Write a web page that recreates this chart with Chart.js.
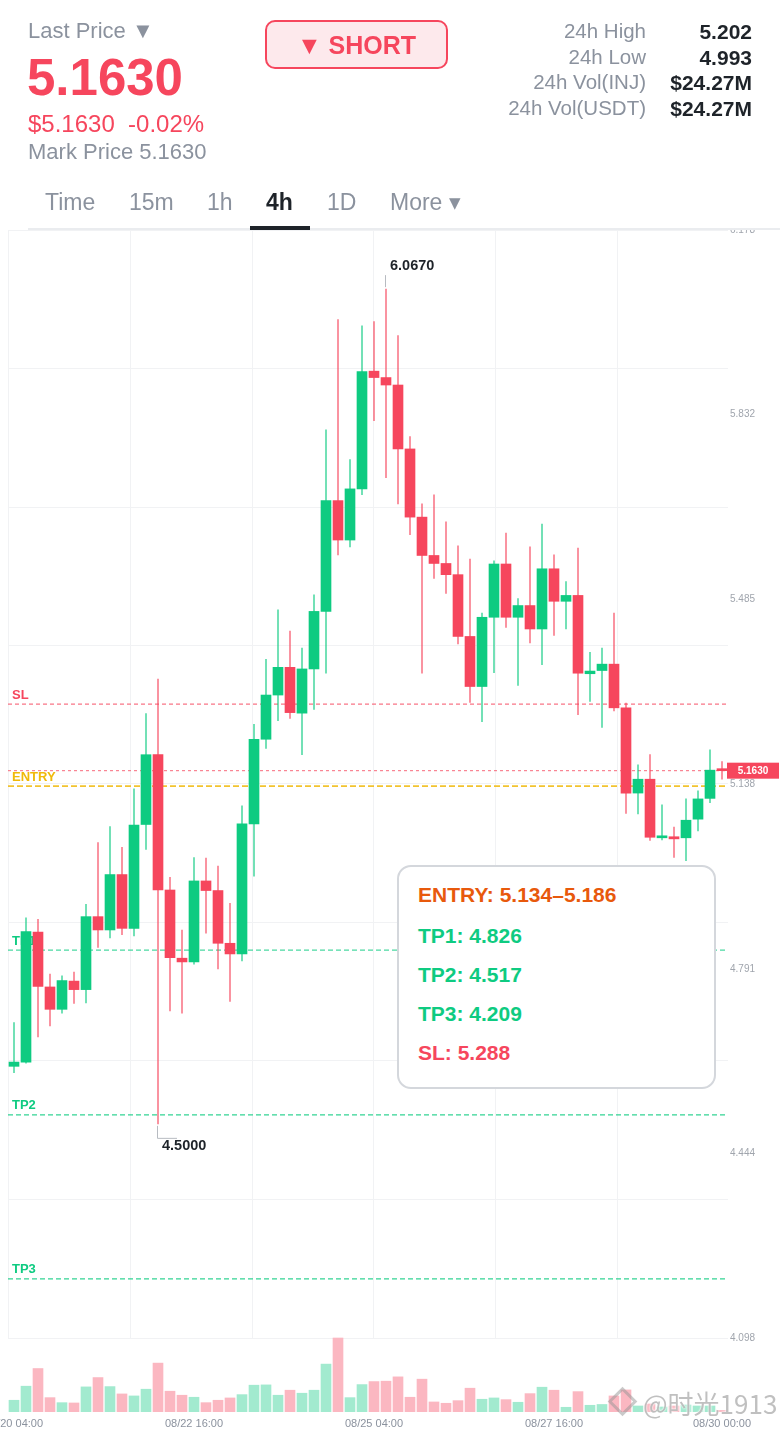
<!DOCTYPE html>
<html>
<head>
<meta charset="utf-8">
<script src="https://cdn.jsdelivr.net/npm/chart.js@4.4.1/dist/chart.umd.min.js"></script>
<style>
html, body { margin: 0; padding: 0; background: #fff; }
body { width: 780px; height: 1430px; position: relative; overflow: hidden; font-family: "Liberation Sans", Arial, sans-serif; }
.t { position: absolute; white-space: nowrap; line-height: 1; }
.gray { color: #8b929e; }
.dark { color: #1e2329; }
.red { color: #f6465d; }
#cover { position: absolute; left: 0; top: 0; width: 780px; height: 228px; background: #fff; z-index: 2; }
#head { position: absolute; left: 0; top: 0; width: 780px; height: 230px; z-index: 3; }
#c { position: absolute; left: -60px; top: 220px; z-index: 1; }
#box { position: absolute; left: 397px; top: 865px; width: 315px; height: 220px; border: 2px solid #d4d7dc; border-radius: 14px; background: #fff; z-index: 4; }
#wm { position: absolute; left: 608px; top: 1390px; z-index: 5; color: rgba(130,130,130,0.5); font-family: "Noto Sans CJK SC", sans-serif; font-size: 26px; line-height: 1; white-space: nowrap; text-shadow: 0 0 2px #fff, 0 0 2px #fff; }
</style>
</head>
<body>
<div id="cover"></div>
<div id="head">
  <div class="t gray" style="left:28px;top:20px;font-size:22px;">Last Price ▼</div>
  <div class="t red" style="left:27px;top:52px;font-size:51px;font-weight:bold;">5.1630</div>
  <div class="t red" style="left:28px;top:112px;font-size:24px;">$5.1630&nbsp;&nbsp;-0.02%</div>
  <div class="t gray" style="left:28px;top:141px;font-size:22px;">Mark Price 5.1630</div>

  <div style="position:absolute;left:265px;top:20px;width:179px;height:45px;border:2px solid #f6465d;border-radius:10px;background:#fde9ec;"></div>
  <div class="t red" style="left:265px;top:33px;width:183px;text-align:center;font-size:25px;font-weight:bold;">▼ SHORT</div>

  <div class="t gray" style="right:134px;top:21px;font-size:20.5px;">24h High</div>
  <div class="t gray" style="right:134px;top:47px;font-size:20.5px;">24h Low</div>
  <div class="t gray" style="right:134px;top:72px;font-size:20.5px;">24h Vol(INJ)</div>
  <div class="t gray" style="right:134px;top:98px;font-size:20.5px;">24h Vol(USDT)</div>
  <div class="t dark" style="right:28px;top:21px;font-size:21px;font-weight:bold;">5.202</div>
  <div class="t dark" style="right:28px;top:47px;font-size:21px;font-weight:bold;">4.993</div>
  <div class="t dark" style="right:28px;top:72px;font-size:21px;font-weight:bold;">$24.27M</div>
  <div class="t dark" style="right:28px;top:98px;font-size:21px;font-weight:bold;">$24.27M</div>

  <div class="t gray" style="left:45px;top:191px;font-size:23px;">Time</div>
  <div class="t gray" style="left:129px;top:191px;font-size:23px;">15m</div>
  <div class="t gray" style="left:207px;top:191px;font-size:23px;">1h</div>
  <div class="t dark" style="left:266px;top:191px;font-size:23px;font-weight:bold;">4h</div>
  <div class="t gray" style="left:327px;top:191px;font-size:23px;">1D</div>
  <div class="t gray" style="left:390px;top:191px;font-size:23px;">More ▾</div>
  <div style="position:absolute;left:28px;top:228px;width:752px;height:2px;background:#eaecef;"></div>
  <div style="position:absolute;left:250px;top:226px;width:60px;height:4px;background:#1e2329;"></div>
</div>

<canvas id="c" width="840" height="1210"></canvas>

<div id="box">
  <div class="t" style="left:19px;top:17px;font-size:21px;font-weight:bold;color:#e8590c;">ENTRY: 5.134–5.186</div>
  <div class="t" style="left:19px;top:58px;font-size:21px;font-weight:bold;color:#0ecb81;">TP1: 4.826</div>
  <div class="t" style="left:19px;top:97px;font-size:21px;font-weight:bold;color:#0ecb81;">TP2: 4.517</div>
  <div class="t" style="left:19px;top:136px;font-size:21px;font-weight:bold;color:#0ecb81;">TP3: 4.209</div>
  <div class="t" style="left:19px;top:175px;font-size:21px;font-weight:bold;color:#f6465d;">SL: 5.288</div>
</div>

<div id="wm"><span style="display:inline-block;width:15px;height:15px;border:3px solid rgba(150,150,150,0.5);transform:rotate(45deg);margin:0 10px 0 4px;vertical-align:2px;"></span>@时光1913</div>

<script>
// 4h candles, 08/20 04:00 -> 08/30 00:00
const opens  = [4.608, 4.616, 4.860, 4.757, 4.715, 4.768, 4.752, 4.889, 4.864, 4.968,
                4.867, 5.062, 5.193, 4.939, 4.811, 4.804, 4.956, 4.938, 4.839, 4.819,
                5.063, 5.222, 5.305, 5.357, 5.271, 5.354, 5.462, 5.670, 5.596, 5.692,
                5.913, 5.901, 5.887, 5.767, 5.639, 5.567, 5.552, 5.531, 5.415, 5.321,
                5.451, 5.551, 5.451, 5.473, 5.429, 5.542, 5.481, 5.492, 5.345, 5.351,
                5.363, 5.281, 5.121, 5.147, 5.037, 5.039, 5.037, 5.072, 5.111, 5.164];
const highs  = [4.690, 4.887, 4.884, 4.781, 4.778, 4.785, 4.912, 5.028, 5.058, 5.019,
                5.129, 5.270, 5.335, 4.963, 4.864, 5.000, 4.999, 4.984, 4.914, 5.097,
                5.250, 5.372, 5.465, 5.425, 5.393, 5.493, 5.803, 6.010, 5.747, 5.998,
                6.006, 6.067, 5.980, 5.790, 5.664, 5.681, 5.630, 5.585, 5.560, 5.459,
                5.557, 5.609, 5.486, 5.583, 5.626, 5.568, 5.518, 5.581, 5.385, 5.393,
                5.459, 5.290, 5.174, 5.193, 5.099, 5.057, 5.110, 5.125, 5.202, 5.180];
const lows   = [4.596, 4.614, 4.663, 4.684, 4.708, 4.726, 4.727, 4.831, 4.849, 4.855,
                4.853, 5.015, 4.500, 4.712, 4.708, 4.800, 4.858, 4.791, 4.730, 4.806,
                4.965, 5.205, 5.257, 5.261, 5.193, 5.278, 5.346, 5.568, 5.583, 5.681,
                5.820, 5.713, 5.664, 5.606, 5.346, 5.524, 5.496, 5.401, 5.291, 5.255,
                5.347, 5.432, 5.323, 5.403, 5.362, 5.417, 5.429, 5.268, 5.293, 5.244,
                5.275, 5.083, 5.082, 5.032, 5.033, 5.000, 4.994, 5.050, 5.103, 5.147];
const closes = [4.616, 4.861, 4.758, 4.715, 4.769, 4.752, 4.889, 4.864, 4.968, 4.867,
                5.061, 5.193, 4.939, 4.812, 4.804, 4.956, 4.938, 4.839, 4.819, 5.063,
                5.222, 5.305, 5.357, 5.272, 5.354, 5.462, 5.670, 5.596, 5.692, 5.912,
                5.901, 5.887, 5.767, 5.639, 5.567, 5.552, 5.531, 5.415, 5.321, 5.451,
                5.551, 5.451, 5.473, 5.429, 5.542, 5.481, 5.492, 5.346, 5.350, 5.363,
                5.281, 5.121, 5.147, 5.038, 5.040, 5.035, 5.070, 5.110, 5.164, 5.163];
const volumes = [11.7, 25.7, 43.3, 14.3, 9.3, 9.0, 25.0, 34.3, 25.3, 18.0,
                 16.0, 22.7, 48.7, 20.7, 16.7, 14.7, 9.3, 11.7, 14.0, 17.3,
                 26.7, 27.0, 16.7, 21.7, 18.7, 21.7, 47.7, 73.7, 14.3, 27.3,
                 30.3, 30.7, 35.0, 14.7, 32.7, 10.0, 8.7, 11.3, 23.7, 12.7,
                 14.0, 12.3, 9.7, 18.3, 24.7, 21.7, 4.7, 20.3, 6.7, 7.5,
                 16.0, 22.0, 6.0, 8.0, 5.0, 6.0, 7.0, 6.0, 6.0, 1.6];

const yTickLabels = ['6.178', '5.832', '5.485', '5.138', '4.791', '4.444', '4.098'];
const xTickLabels = ['08/20 04:00', '08/22 16:00', '08/25 04:00', '08/27 16:00', '08/30 00:00'];
const levelNames  = ['SL', 'ENTRY', 'TP1', 'TP2', 'TP3'];
const levelValues = [5.288, 5.134, 4.826, 4.517, 4.209];
const lastPrice = 5.163;
const xGridAt = [0, 10.15, 20.3, 30.45, 40.6, 50.75];

const GREEN = '#0ecb81', RED = '#f6465d';
const priceTop = 6.178, priceBottom = 4.098;
const pricePx = 1108, volPx = 74;   // price pane / volume pane heights
const yMin = priceBottom - (priceTop - priceBottom) * volPx / pricePx;
const volMax = Math.max(...volumes) * (pricePx + volPx) / volPx;

const times = [];
for (let i = 0; i < opens.length; i++) {
    const d = new Date(Date.UTC(2025, 7, 20, 4 + 4 * i));
    const p = n => String(n).padStart(2, '0');
    times.push(p(d.getUTCMonth() + 1) + '/' + p(d.getUTCDate()) + ' ' + p(d.getUTCHours()) + ':00');
}

const up = opens.map((o, i) => closes[i] >= o);

const levelStyle = {
    SL:    { line: 'rgba(246,70,93,0.75)', text: RED, dash: [4, 3], w: 1.3 },
    ENTRY: { line: 'rgba(240,185,11,0.85)', text: '#f0b90b', dash: [6, 3], w: 1.6 },
    TP1:   { line: 'rgba(14,203,129,0.75)', text: GREEN, dash: [5, 3], w: 1.3 },
    TP2:   { line: 'rgba(14,203,129,0.85)', text: GREEN, dash: [5, 3], w: 1.3 },
    TP3:   { line: 'rgba(14,203,129,0.85)', text: GREEN, dash: [5, 3], w: 1.3 }
};

const overlay = {
    id: 'overlay',
    beforeDatasetsDraw(chart) {
        const { ctx, chartArea: a, scales } = chart;
        const y = scales.y, xg = scales.xg;
        ctx.save();
        ctx.strokeStyle = '#f1f2f4';
        ctx.lineWidth = 1;
        const yb = y.getPixelForValue(priceBottom);
        xGridAt.forEach(v => {
            const px = Math.round(xg.getPixelForValue(v)) + 0.5;
            ctx.beginPath(); ctx.moveTo(px, a.top); ctx.lineTo(px, yb); ctx.stroke();
        });
        // trade levels
        ctx.font = 'bold 13px "Liberation Sans", Arial, sans-serif';
        ctx.textBaseline = 'middle';
        levelNames.forEach((n, i) => {
            const st = levelStyle[n];
            const py = y.getPixelForValue(levelValues[i]);
            ctx.setLineDash(st.dash);
            ctx.strokeStyle = st.line;
            ctx.lineWidth = st.w;
            ctx.beginPath(); ctx.moveTo(a.left, py); ctx.lineTo(a.right, py); ctx.stroke();
            ctx.fillStyle = st.text;
            ctx.fillText(n, a.left + 4, py - 9);
        });
        // last price line
        const lp = y.getPixelForValue(lastPrice);
        ctx.setLineDash([3, 3]);
        ctx.strokeStyle = 'rgba(246,70,93,0.8)';
        ctx.lineWidth = 1;
        ctx.beginPath(); ctx.moveTo(a.left, lp); ctx.lineTo(a.right, lp); ctx.stroke();
        ctx.restore();
    },
    afterDatasetsDraw(chart) {
        const { ctx, scales } = chart;
        const x = scales.x, y = scales.y;
        const hi = highs.indexOf(Math.max(...highs));
        const lo = lows.indexOf(Math.min(...lows));
        ctx.save();
        ctx.strokeStyle = '#b7bbc1';
        ctx.lineWidth = 1;
        ctx.fillStyle = '#1e2329';
        ctx.font = 'bold 14.5px "Liberation Sans", Arial, sans-serif';
        ctx.textBaseline = 'middle';
        let px = x.getPixelForValue(hi), py = y.getPixelForValue(highs[hi]);
        ctx.beginPath(); ctx.moveTo(px - 0.5, py - 2); ctx.lineTo(px - 0.5, py - 14); ctx.stroke();
        ctx.fillText(highs[hi].toFixed(4), px + 4, py - 23);
        px = x.getPixelForValue(lo); py = y.getPixelForValue(lows[lo]);
        ctx.beginPath(); ctx.moveTo(px - 0.5, py + 2); ctx.lineTo(px - 0.5, py + 14.5); ctx.lineTo(px + 19, py + 14.5); ctx.stroke();
        ctx.fillText(lows[lo].toFixed(4), px + 4, py + 22);
        ctx.restore();
    },
    afterDraw(chart) {
        const { ctx, chartArea: a, scales } = chart;
        const py = scales.y.getPixelForValue(lastPrice);
        ctx.save();
        ctx.fillStyle = RED;
        ctx.fillRect(a.right - 1, py - 8, 52, 16);
        ctx.fillStyle = '#fff';
        ctx.font = 'bold 10px "Liberation Sans", Arial, sans-serif';
        ctx.textAlign = 'center';
        ctx.textBaseline = 'middle';
        ctx.fillText(lastPrice.toFixed(4), a.right + 25, py + 0.5);
        ctx.restore();
    }
};

Chart.defaults.font.family = '"Liberation Sans", Arial, sans-serif';

new Chart(document.getElementById('c'), {
    data: {
        labels: times,
        datasets: [
            {
                type: 'bar', label: 'wick', xAxisID: 'x', yAxisID: 'y',
                data: lows.map((l, i) => [l, highs[i]]),
                backgroundColor: up.map(u => u ? 'rgba(14,203,129,0.7)' : 'rgba(246,70,93,0.7)'),
                barThickness: 1, grouped: false, order: 2
            },
            {
                type: 'bar', label: 'body', xAxisID: 'x', yAxisID: 'y',
                data: opens.map((o, i) => [o, closes[i]]),
                backgroundColor: up.map(u => u ? GREEN : RED),
                barThickness: 10, minBarLength: 2, grouped: false, order: 1
            },
            {
                type: 'bar', label: 'volume', xAxisID: 'x', yAxisID: 'yv',
                data: volumes,
                backgroundColor: up.map(u => u ? '#a2eacf' : '#fbb7c1'),
                barThickness: 10, grouped: false, order: 3
            }
        ]
    },
    options: {
        responsive: false,
        animation: false,
        layout: { padding: { left: 68, top: 10, right: 0, bottom: 0 } },
        plugins: { legend: { display: false }, tooltip: { enabled: false } },
        scales: {
            x: {
                type: 'category', offset: true,
                grid: { display: false, drawTicks: false }, border: { display: false },
                ticks: {
                    autoSkip: false, maxRotation: 0, minRotation: 0, padding: 5,
                    color: '#8b929e', font: { size: 11 },
                    callback(val) {
                        const t = this.getLabelForValue(val);
                        return xTickLabels.includes(t) ? t : '';
                    }
                },
                afterFit(s) { s.height = 18; }
            },
            xg: { type: 'linear', axis: 'x', display: false, min: 0, max: 60 },
            y: {
                position: 'right', min: yMin, max: priceTop,
                grid: { display: false, drawTicks: false }, border: { display: false },
                ticks: {
                    padding: 2, color: '#a0a5ad', font: { size: 10 },
                    callback: (v, i) => yTickLabels[i]
                },
                afterBuildTicks(s) { s.ticks = yTickLabels.map(v => ({ value: parseFloat(v) })); },
                afterFit(s) { s.width = 52; }
            },
            yg: {
                position: 'left', min: yMin, max: priceTop,
                ticks: { display: false },
                grid: { color: '#f1f2f4', drawTicks: false }, border: { display: false },
                afterBuildTicks(s) {
                    const step = (priceTop - priceBottom) / 8;
                    s.ticks = [];
                    for (let k = 0; k <= 8; k++) s.ticks.push({ value: priceBottom + k * step });
                }
            },
            yv: { display: false, min: 0, max: volMax }
        }
    },
    plugins: [overlay]
});
</script>
</body>
</html>
